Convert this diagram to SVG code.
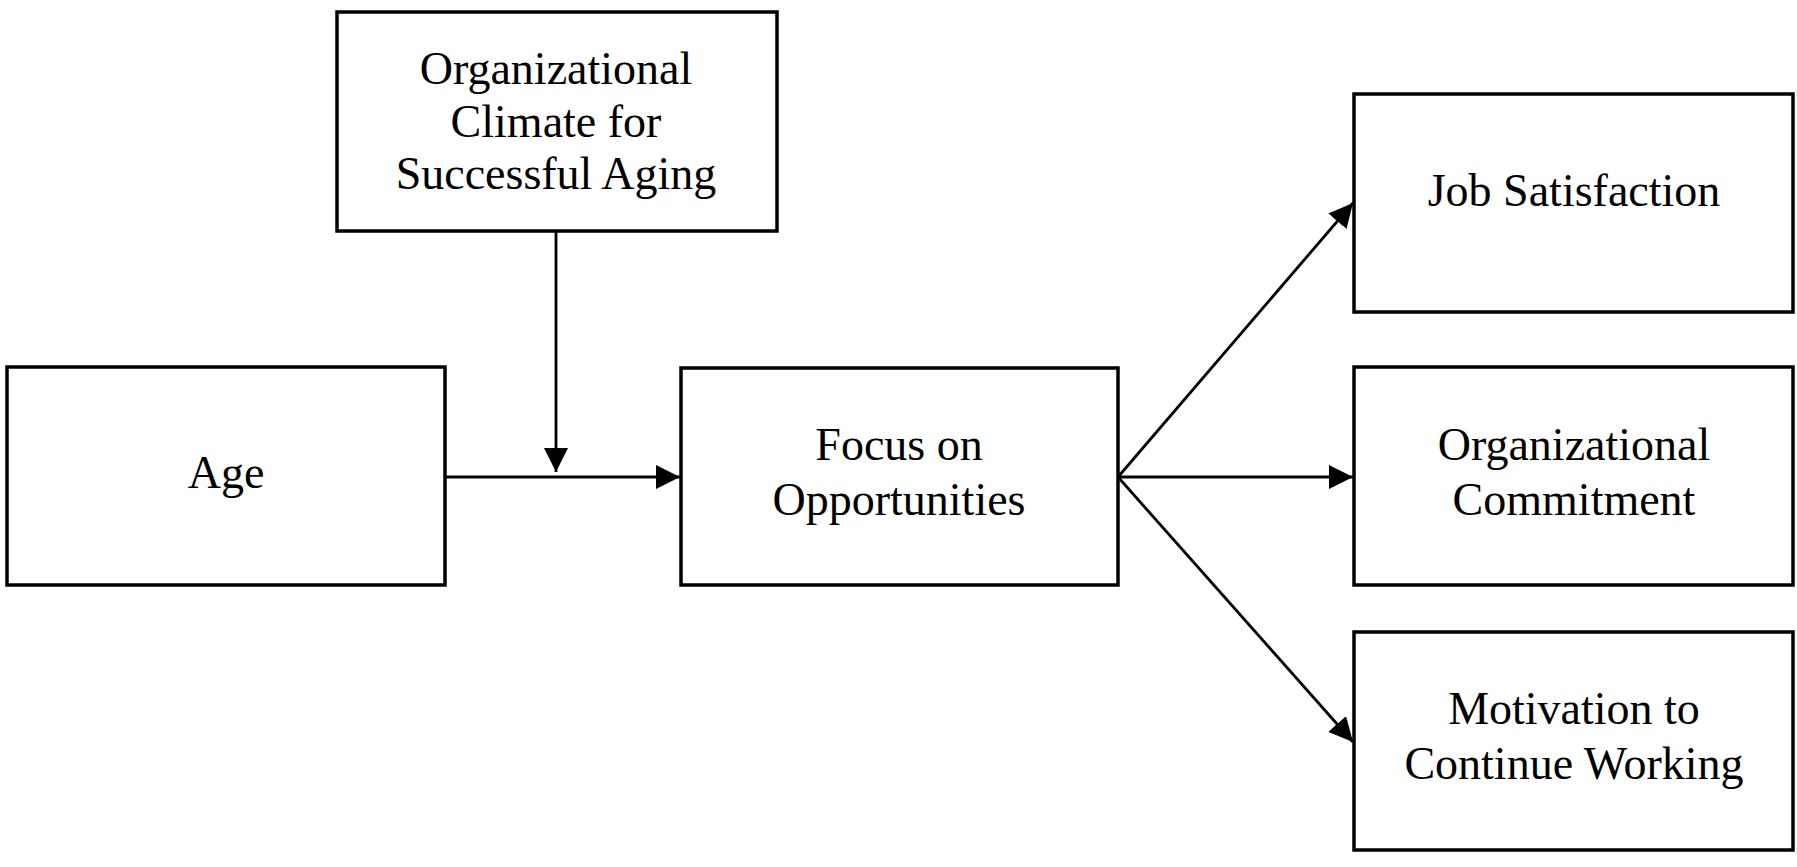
<svg xmlns="http://www.w3.org/2000/svg" width="1797" height="867" viewBox="0 0 1797 867">
<style>
.box{fill:#fff;stroke:#000;stroke-width:3.5}
.lbl{font-family:"Liberation Serif","Times New Roman",serif;font-size:46px;fill:#000;text-anchor:middle}
.con{stroke:#000;stroke-width:2.8;fill:none}
</style>
<defs>
<marker id="ah" markerUnits="userSpaceOnUse" markerWidth="24" markerHeight="24" viewBox="0 0 24 24" refX="24" refY="12" orient="auto">
<path d="M0,0 L24,12 L0,24 Z" fill="#000"/>
</marker>
</defs>
<rect width="1797" height="867" fill="#fff"/>
<g id="connectors">
<line class="con" x1="556" y1="231" x2="556" y2="472" marker-end="url(#ah)"/>
<line class="con" x1="445" y1="477" x2="680" y2="477" marker-end="url(#ah)"/>
<line class="con" x1="1118" y1="477" x2="1353" y2="203" marker-end="url(#ah)"/>
<line class="con" x1="1118" y1="477" x2="1353" y2="477" marker-end="url(#ah)"/>
<line class="con" x1="1118" y1="477" x2="1353" y2="742" marker-end="url(#ah)"/>
</g>
<g id="climate">
<rect class="box" x="337" y="12" width="440" height="219"/>
<text class="lbl" x="556" y="84">Organizational</text>
<text class="lbl" x="556" y="137">Climate for</text>
<text class="lbl" x="556" y="189">Successful Aging</text>
</g>
<g id="age">
<rect class="box" x="7" y="367" width="438" height="218"/>
<text class="lbl" x="226" y="488">Age</text>
</g>
<g id="focus">
<rect class="box" x="681" y="368" width="437" height="217"/>
<text class="lbl" x="899" y="460">Focus on</text>
<text class="lbl" x="899" y="515">Opportunities</text>
</g>
<g id="job">
<rect class="box" x="1354" y="94" width="439" height="218"/>
<text class="lbl" x="1574" y="206">Job Satisfaction</text>
</g>
<g id="commitment">
<rect class="box" x="1354" y="367" width="439" height="218"/>
<text class="lbl" x="1574" y="460">Organizational</text>
<text class="lbl" x="1574" y="515">Commitment</text>
</g>
<g id="motivation">
<rect class="box" x="1354" y="632" width="439" height="218"/>
<text class="lbl" x="1574" y="724">Motivation to</text>
<text class="lbl" x="1574" y="779">Continue Working</text>
</g>
</svg>
